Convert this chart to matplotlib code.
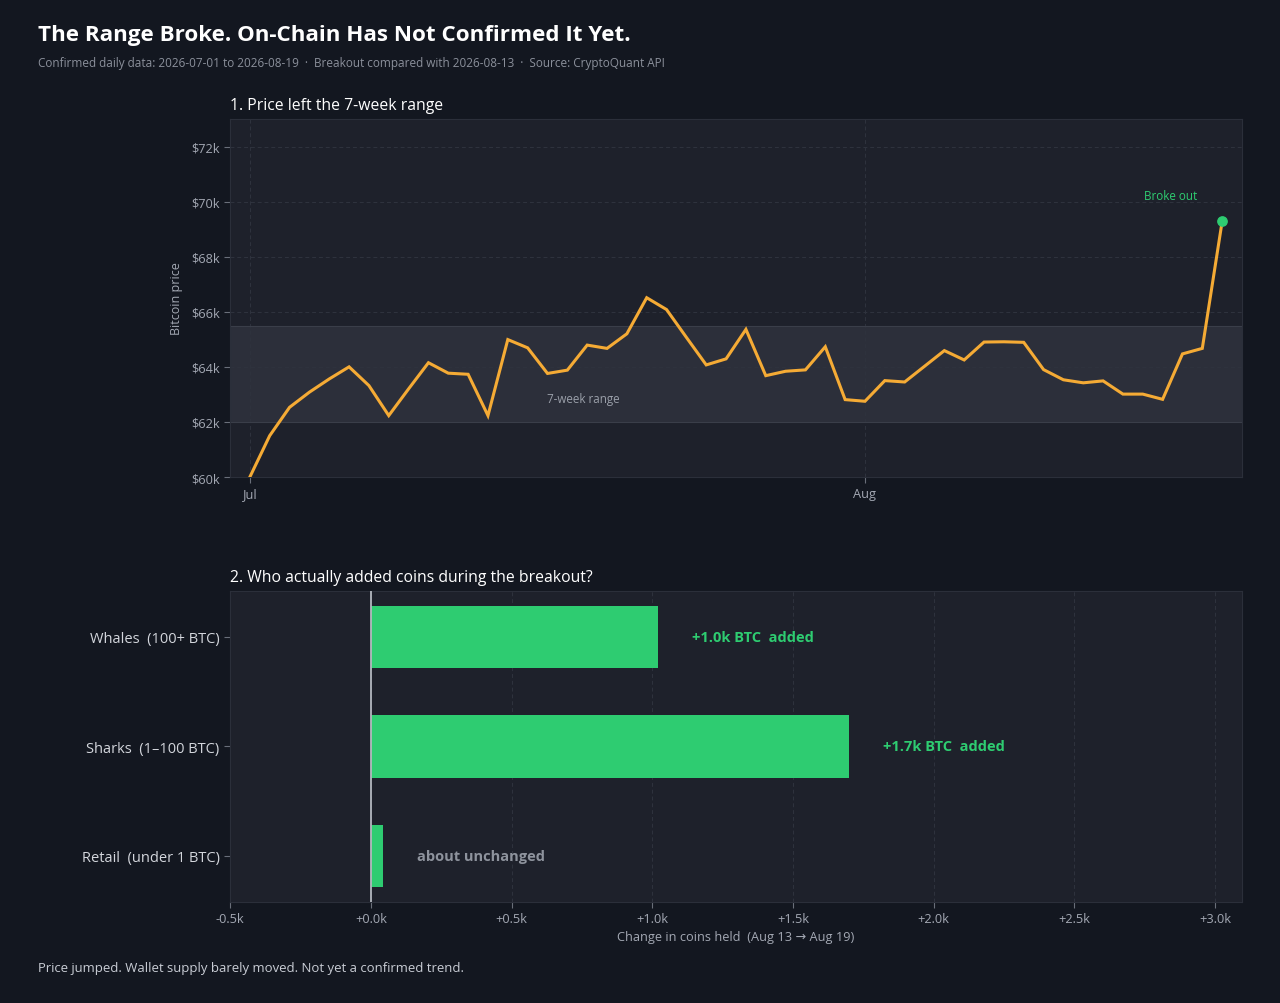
import numpy as np
import pandas as pd
import matplotlib
matplotlib.use("Agg")
from matplotlib import pyplot as plt
import matplotlib.dates as mdates
from matplotlib.ticker import FuncFormatter, MultipleLocator

plt.rcParams['font.family'] = ['Open Sans', 'DejaVu Sans']

# Daily BTC price, thousands of USD, 2026-07-01 .. 2026-08-19
dates = pd.date_range("2026-07-01", "2026-08-19", freq="D")
price_k = [60.00, 61.50, 62.53, 63.08, 63.56, 64.00, 63.32, 62.23, 63.20, 64.15,
           63.77, 63.73, 62.23, 64.99, 64.69, 63.76, 63.88, 64.79, 64.67, 65.20,
           66.51, 66.08, 65.07, 64.07, 64.29, 65.36, 63.68, 63.84, 63.89, 64.73,
           62.81, 62.75, 63.50, 63.45, 64.02, 64.59, 64.25, 64.90, 64.91, 64.89,
           63.90, 63.53, 63.42, 63.49, 63.01, 63.01, 62.82, 64.47, 64.67, 69.28]
range_low_k = 62.0
range_high_k = 65.5

# Change in coins held, Aug 13 -> Aug 19 (BTC)
cohorts = ["Whales  (100+ BTC)", "Sharks  (1\u2013100 BTC)", "Retail  (under 1 BTC)"]
change_btc = [1020, 1700, 43]
bar_notes = ["+1.0k BTC  added", "+1.7k BTC  added", "about unchanged"]

BG = "#131720"
PANEL = "#1e212b"
BAND = "#2c2f3a"
ORANGE = "#f5ab35"
GREEN = "#2ecc71"
TICK = "#a3a8b3"
GRID = "#2f333e"

fig = plt.figure(figsize=(12.8, 10.04), dpi=100, facecolor=BG)

fig.text(0.0297, 0.965, "The Range Broke. On-Chain Has Not Confirmed It Yet.",
         color="white", fontsize=16.1, fontweight="bold", va="center")
fig.text(0.0297, 0.937,
         "Confirmed daily data: 2026-07-01 to 2026-08-19  \u00b7  Breakout compared with 2026-08-13  \u00b7  Source: CryptoQuant API",
         color="#8b909b", fontsize=8.45, va="center")
fig.text(0.0297, 0.035, "Price jumped. Wallet supply barely moved. Not yet a confirmed trend.",
         color="#c9cdd5", fontsize=9.45, va="center")

# ---- panel 1: price
ax1 = fig.add_axes([0.1797, 0.5239, 0.7906, 0.3566], facecolor=PANEL)
ax1.axhspan(range_low_k, range_high_k, color=BAND, zorder=0.5, lw=0)
ax1.axhline(range_low_k, color="#3a3e49", lw=0.8, zorder=0.6)
ax1.axhline(range_high_k, color="#3a3e49", lw=0.8, zorder=0.6)
ax1.plot(dates, price_k, color=ORANGE, lw=2.2, zorder=3, solid_joinstyle="miter")
ax1.scatter([dates[-1]], [price_k[-1]], s=45, color=GREEN, zorder=4)
ax1.text(dates[-1] - pd.Timedelta(days=2.6), price_k[-1] + 0.95, "Broke out",
         color=GREEN, fontsize=8.4, ha="center", va="center")
ax1.text(dates[15], 62.85, "7-week range", color="#9a9fa9", fontsize=8.4,
         ha="left", va="center")

ax1.set_xlim(pd.Timestamp("2026-06-30"), pd.Timestamp("2026-08-20"))
ax1.set_ylim(60, 73)
ax1.yaxis.set_major_locator(MultipleLocator(2))
ax1.yaxis.set_major_formatter(FuncFormatter(lambda v, p: f"${v:.0f}k"))
ax1.xaxis.set_major_locator(mdates.MonthLocator())
ax1.xaxis.set_major_formatter(mdates.DateFormatter("%b"))
ax1.set_ylabel("Bitcoin price", color=TICK, fontsize=9, labelpad=6)
ax1.set_title("1. Price left the 7-week range", loc="left", color="white",
              fontsize=11.3, pad=7)
ax1.grid(True, color=GRID, ls=(0, (4, 3)), lw=0.7, zorder=0)

# ---- panel 2: cohort bars
ax2 = fig.add_axes([0.1797, 0.1006, 0.7906, 0.3098], facecolor=PANEL)
y = np.arange(len(cohorts))
vals_k = [v / 1000 for v in change_btc]
ax2.barh(y, vals_k, height=0.57, color=GREEN, zorder=3)
ax2.axvline(0, color="#b3b7bf", lw=1.3, zorder=4)
for yi, v, note in zip(y, vals_k, bar_notes):
    c = "#8e939d" if note.startswith("about") else GREEN
    ax2.text(v + 0.121, yi, note, color=c, fontsize=10.5, fontweight="bold",
             ha="left", va="center")
ax2.set_yticks(y)
ax2.set_yticklabels(cohorts)
ax2.set_ylim(2.42, -0.42)
ax2.set_xlim(-0.5, 3.095)
ax2.xaxis.set_major_locator(MultipleLocator(0.5))
ax2.xaxis.set_major_formatter(FuncFormatter(lambda v, p: f"{v:+.1f}k"))
ax2.set_xlabel("Change in coins held  (Aug 13 \u2192 Aug 19)", color=TICK,
               fontsize=9.2, labelpad=3)
ax2.set_title("2. Who actually added coins during the breakout?", loc="left",
              color="white", fontsize=11.3, pad=7)
ax2.grid(True, axis="x", color=GRID, ls=(0, (4, 3)), lw=0.7, zorder=0)

for ax in (ax1, ax2):
    ax.set_axisbelow(True)
    for s in ax.spines.values():
        s.set_color("#2b2f3a")
        s.set_linewidth(0.8)
    ax.tick_params(colors="#6a6f7a", labelcolor=TICK, labelsize=9.2,
                   length=4, width=0.8)
ax2.tick_params(axis="y", labelcolor="#d3d6dc", labelsize=10.5)

fig.savefig("out.png", dpi=100, facecolor=BG)
